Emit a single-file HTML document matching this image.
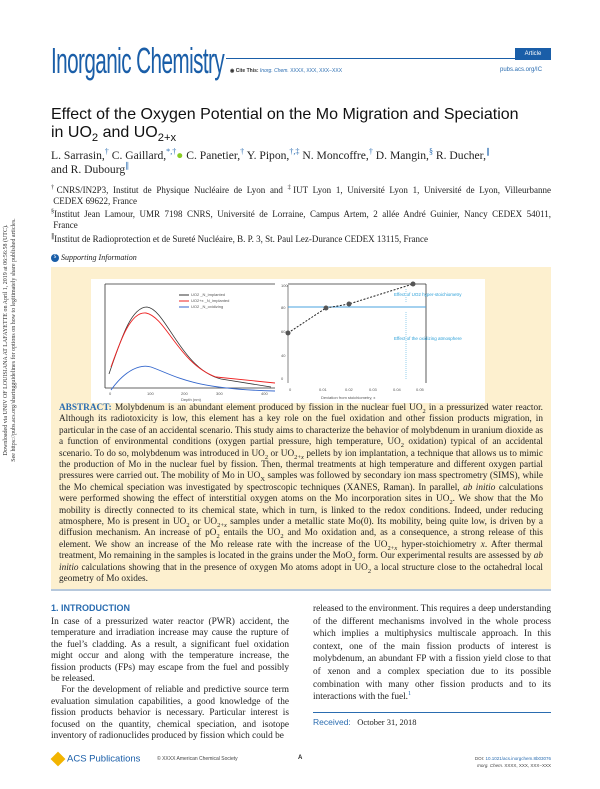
<!DOCTYPE html>
<html><head><meta charset="utf-8"><style>
body{margin:0;width:600px;height:789px;background:#fff;position:relative;overflow:hidden;font-family:"Liberation Serif",serif;color:#222}
.a{position:absolute}
.sans{font-family:"Liberation Sans",sans-serif}
sub,sup{font-size:70%;line-height:0}
.blue{color:#2a6cb0}
p{margin:0}
.j{text-align:justify}
.jl{text-align:justify;text-align-last:justify;white-space:nowrap}
</style></head><body>
<div class="a sans" style="left:51px;top:40px;font-size:36px;color:#1a5ea8;letter-spacing:-1px;transform:scaleX(0.575);transform-origin:left;white-space:nowrap">Inorganic Chemistry</div>
<div class="a" style="left:226px;top:58px;width:325px;height:1px;background:#1a5ea8"></div>
<div class="a sans" style="left:515px;top:48px;width:36px;height:12px;background:#1a5ea8;color:#fff;font-size:6px;text-align:center;line-height:12px">Article</div>
<div class="a sans" style="left:230px;top:68px;font-size:5px;color:#333"><b>◉ Cite This:</b> <i class="blue">Inorg. Chem.</i> <span class="blue">XXXX, XXX, XXX−XXX</span></div>
<div class="a sans blue" style="left:500px;top:67px;font-size:6px">pubs.acs.org/IC</div>
<div class="a sans" style="left:51px;top:106px;font-size:16px;line-height:18px;color:#111;width:520px">Effect of the Oxygen Potential on the Mo Migration and Speciation<br>in UO<sub>2</sub> and UO<sub>2+x</sub></div>
<div class="a" style="left:51px;top:149px;font-size:11.6px;line-height:14px;width:520px;white-space:nowrap">L. Sarrasin,<sup class="blue">†</sup> C. Gaillard,<sup class="blue">*,†</sup><span style="color:#8c2">●</span> C. Panetier,<sup class="blue">†</sup> Y. Pipon,<sup class="blue">†,‡</sup> N. Moncoffre,<sup class="blue">†</sup> D. Mangin,<sup class="blue">§</sup> R. Ducher,<sup class="blue">∥</sup><br>and R. Dubourg<sup class="blue">∥</sup></div>
<div class="a" style="left:51px;top:185px;font-size:9px;line-height:11px;width:500px"><div class="jl"><sup>†</sup>CNRS/IN2P3, Institut de Physique Nucléaire de Lyon and <sup>‡</sup>IUT Lyon 1, Université Lyon 1, Université de Lyon, Villeurbanne</div><div>&nbsp;CEDEX 69622, France</div></div>
<div class="a" style="left:51px;top:209px;font-size:9px;line-height:11px;width:500px"><div class="jl"><sup>§</sup>Institut Jean Lamour, UMR 7198 CNRS, Université de Lorraine, Campus Artem, 2 allée André Guinier, Nancy CEDEX 54011,</div><div>&nbsp;France</div></div>
<div class="a" style="left:51px;top:234px;font-size:9px;line-height:11px;width:500px"><sup>∥</sup>Institut de Radioprotection et de Sureté Nucléaire, B. P. 3, St. Paul Lez-Durance CEDEX 13115, France</div>
<div class="a" style="left:51px;top:253px;font-size:8px"><span style="display:inline-block;width:8px;height:8px;border-radius:50%;background:#1a5ea8;color:#fff;font-size:5px;text-align:center;line-height:8px;vertical-align:middle">S</span> <i>Supporting Information</i></div>
<div class="a" style="left:51px;top:267px;width:500px;height:322px;background:#fdf0cf"></div>
<div class="a" style="left:51px;top:589px;width:500px;height:2px;background:#b6c8dc"></div>
<svg class="a" style="left:91px;top:279px" width="394" height="124" viewBox="0 0 394 124">
<rect width="394" height="124" fill="#fff"/>
<g font-family="Liberation Sans" font-size="4" fill="#555">
<line x1="14" y1="5" x2="14" y2="109" stroke="#333" stroke-width=".8"/>
<line x1="14" y1="5" x2="184" y2="5" stroke="#333" stroke-width=".8"/>
<line x1="14" y1="109" x2="184" y2="109" stroke="#333" stroke-width=".8"/>
<path d="M18 95 C30 60 40 28 56 28 C75 30 90 90 130 100 L180 108" fill="none" stroke="#333" stroke-width=".8"/>
<path d="M20 88 C30 60 40 32 55 34 C75 38 88 85 125 98 L184 104" fill="none" stroke="#e22" stroke-width=".9"/>
<path d="M20 111 C35 90 50 85 60 88 C85 97 100 110 184 112" fill="none" stroke="#36c" stroke-width=".9"/>
<path d="M88 16 h10" stroke="#333"/><path d="M88 22 h10" stroke="#e22"/><path d="M88 28 h10" stroke="#36c"/>
<text x="100" y="17">UO2 _N_implanted</text><text x="100" y="23">UO2+x _N_implanted</text><text x="100" y="29">UO2 _N_oxidizing</text>
<text x="90" y="122">Depth (nm)</text>
<text x="18" y="116">0</text><text x="56" y="116">100</text><text x="90" y="116">200</text><text x="125" y="116">300</text><text x="170" y="116">400</text>
<line x1="197" y1="6" x2="197" y2="104" stroke="#333" stroke-width=".6"/>
<line x1="197" y1="5" x2="335" y2="5" stroke="#333" stroke-width=".8"/>
<line x1="335" y1="5" x2="335" y2="104" stroke="#333" stroke-width=".8"/>
<line x1="197" y1="28" x2="335" y2="28" stroke="#4aa3df" stroke-width="1"/>
<path d="M197 54 L235 29 L258 25 L322 5" fill="none" stroke="#222" stroke-dasharray="2,1.5" stroke-width="1"/>
<circle cx="197" cy="54" r="2.5"/><circle cx="235" cy="29" r="2.5"/><circle cx="258" cy="25" r="2.5"/><circle cx="322" cy="5" r="2.5"/>
<g fill="#2a9fd8"><text x="303" y="17" font-size="4.5">Effect of UO2 hyper-stoichiometry</text><text x="303" y="61" font-size="4.5">Effect of the oxidizing atmosphere</text></g>
<line x1="315" y1="10" x2="315" y2="24" stroke="#2a9fd8" stroke-width=".5" stroke-dasharray="1,1"/>
<line x1="315" y1="33" x2="315" y2="100" stroke="#2a9fd8" stroke-width=".5" stroke-dasharray="1,1"/>
<text x="190" y="8">100</text><text x="190" y="30">80</text><text x="190" y="54">60</text><text x="190" y="78">40</text><text x="190" y="101">0</text>
<text x="198" y="112">0</text><text x="228" y="112">0.01</text><text x="254" y="112">0.02</text><text x="278" y="112">0.03</text><text x="302" y="112">0.04</text><text x="325" y="112">0.05</text>
<text x="230" y="120">Deviation from stoichiometry, x</text>
</g></svg>
<div class="a j" style="left:59px;top:403px;width:484px;font-size:9.25px;line-height:11.4px"><b class="blue">ABSTRACT:</b> Molybdenum is an abundant element produced by fission in the nuclear fuel UO<sub>2</sub> in a pressurized water reactor. Although its radiotoxicity is low, this element has a key role on the fuel oxidation and other fission products migration, in particular in the case of an accidental scenario. This study aims to characterize the behavior of molybdenum in uranium dioxide as a function of environmental conditions (oxygen partial pressure, high temperature, UO<sub>2</sub> oxidation) typical of an accidental scenario. To do so, molybdenum was introduced in UO<sub>2</sub> or UO<sub>2+<i>x</i></sub> pellets by ion implantation, a technique that allows us to mimic the production of Mo in the nuclear fuel by fission. Then, thermal treatments at high temperature and different oxygen partial pressures were carried out. The mobility of Mo in UO<sub>X</sub> samples was followed by secondary ion mass spectrometry (SIMS), while the Mo chemical speciation was investigated by spectroscopic techniques (XANES, Raman). In parallel, <i>ab initio</i> calculations were performed showing the effect of interstitial oxygen atoms on the Mo incorporation sites in UO<sub>2</sub>. We show that the Mo mobility is directly connected to its chemical state, which in turn, is linked to the redox conditions. Indeed, under reducing atmosphere, Mo is present in UO<sub>2</sub> or UO<sub>2+<i>x</i></sub> samples under a metallic state Mo(0). Its mobility, being quite low, is driven by a diffusion mechanism. An increase of pO<sub>2</sub> entails the UO<sub>2</sub> and Mo oxidation and, as a consequence, a strong release of this element. We show an increase of the Mo release rate with the increase of the UO<sub>2+<i>x</i></sub> hyper-stoichiometry <i>x</i>. After thermal treatment, Mo remaining in the samples is located in the grains under the MoO<sub>2</sub> form. Our experimental results are assessed by <i>ab initio</i> calculations showing that in the presence of oxygen Mo atoms adopt in UO<sub>2</sub> a local structure close to the octahedral local geometry of Mo oxides.</div>
<div class="a sans blue" style="left:51px;top:603px;font-size:9px;font-weight:bold">1. INTRODUCTION</div>
<div class="a j" style="left:51px;top:617px;width:238px;font-size:9.3px;line-height:11.4px">In case of a pressurized water reactor (PWR) accident, the temperature and irradiation increase may cause the rupture of the fuel’s cladding. As a result, a significant fuel oxidation might occur and along with the temperature increase, the fission products (FPs) may escape from the fuel and possibly be released.<br>&nbsp;&nbsp;&nbsp;For the development of reliable and predictive source term evaluation simulation capabilities, a good knowledge of the fission products behavior is necessary. Particular interest is focused on the quantity, chemical speciation, and isotope inventory of radionuclides produced by fission which could be</div>
<div class="a j" style="left:313px;top:603px;width:238px;font-size:9.3px;line-height:12.6px">released to the environment. This requires a deep under&shy;standing of the different mechanisms involved in the whole process which implies a multiphysics multiscale approach. In this context, one of the main fission products of interest is molybdenum, an abundant FP with a fission yield close to that of xenon and a complex speciation due to its possible combination with many other fission products and to its interactions with the fuel.<sup class="blue">1</sup></div>
<div class="a" style="left:313px;top:712px;width:238px;height:1px;background:#2a6cb0"></div>
<div class="a" style="left:313px;top:717px;font-size:8.5px"><span class="sans blue">Received:</span>&nbsp;&nbsp; October 31, 2018</div>
<div class="a sans" style="left:51px;top:752px;font-size:9.5px;color:#1a5ea8"><span style="display:inline-block;width:14px;height:14px;background:#f2b400;transform:rotate(45deg) scale(.75);vertical-align:middle;margin-right:2px"></span>ACS Publications</div>
<div class="a sans" style="left:157px;top:756px;font-size:5px;color:#444">© XXXX American Chemical Society</div>
<div class="a sans" style="left:298px;top:755px;font-size:6px;font-weight:bold">A</div>
<div class="a sans" style="left:440px;top:755px;font-size:4.5px;color:#444;text-align:right;width:111px;line-height:7px">DOI: <span class="blue">10.1021/acs.inorgchem.8b03076</span><br><i>Inorg. Chem.</i> XXXX, XXX, XXX−XXX</div>
<div class="a" style="left:-140px;top:332px;width:300px;font-size:6px;line-height:8px;transform:rotate(-90deg);color:#333;text-align:center">Downloaded via UNIV OF LOUISIANA AT LAFAYETTE on April 1, 2019 at 06:56:58 (UTC).<br>See https://pubs.acs.org/sharingguidelines for options on how to legitimately share published articles.</div>
</body></html>
